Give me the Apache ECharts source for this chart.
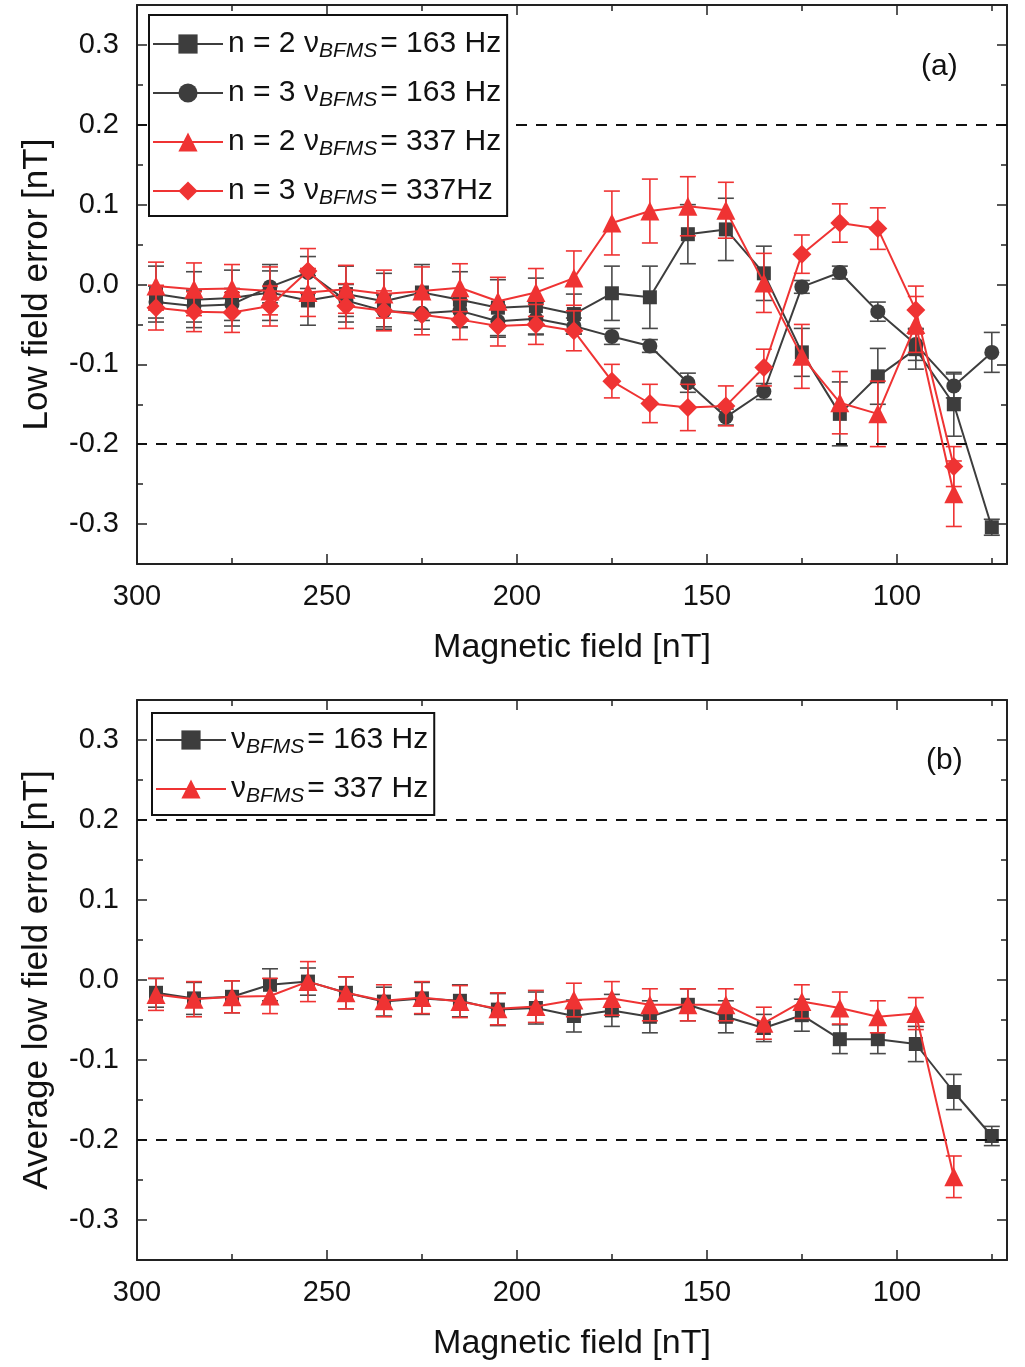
<!DOCTYPE html>
<html>
<head>
<meta charset="utf-8">
<script src="https://cdn.jsdelivr.net/npm/echarts@6/dist/echarts.min.js"></script>
<style>
html, body { margin: 0; padding: 0; background: #fff; }
#main { width: 1025px; height: 1367px; }
</style>
</head>
<body>
<div id="main"></div>
<script>
// magnetic field points [nT]
const field = [295, 285, 275, 265, 255, 245, 235, 225, 215, 205, 195, 185, 175, 165, 155, 145, 135, 125, 115, 105, 95, 85, 75];

// panel (a)
const n2f163 = [-0.012, -0.019, -0.017, -0.01, -0.02, -0.012, -0.021, -0.01, -0.019, -0.029, -0.027, -0.037, -0.011, -0.016, 0.063, 0.069, 0.014, -0.085, -0.162, -0.115, -0.081, -0.15, -0.304];
const n2f163Err = [0.035, 0.035, 0.035, 0.035, 0.031, 0.035, 0.035, 0.035, 0.035, 0.035, 0.035, 0.025, 0.034, 0.039, 0.037, 0.039, 0.034, 0.03, 0.04, 0.035, 0.025, 0.04, 0.01];
const n3f163 = [-0.022, -0.027, -0.025, -0.003, 0.015, -0.02, -0.033, -0.036, -0.033, -0.046, -0.043, -0.052, -0.065, -0.077, -0.123, -0.166, -0.134, -0.003, 0.015, -0.034, -0.075, -0.127, -0.085];
const n3f163Err = [0.02, 0.02, 0.02, 0.02, 0.02, 0.02, 0.02, 0.02, 0.02, 0.02, 0.02, 0.01, 0.01, 0.008, 0.012, 0.01, 0.01, 0.008, 0.008, 0.012, 0.02, 0.015, 0.025];
const n2f337 = [-0.002, -0.006, -0.005, -0.008, -0.01, -0.006, -0.012, -0.008, -0.004, -0.021, -0.01, 0.008, 0.077, 0.092, 0.098, 0.093, 0.002, -0.09, -0.148, -0.162, -0.05, -0.262, null];
const n2f337Err = [0.03, 0.033, 0.03, 0.03, 0.03, 0.03, 0.03, 0.03, 0.03, 0.03, 0.03, 0.034, 0.04, 0.04, 0.037, 0.035, 0.037, 0.04, 0.039, 0.041, 0.035, 0.041, null];
const n3f337 = [-0.029, -0.034, -0.035, -0.027, 0.017, -0.027, -0.033, -0.038, -0.044, -0.052, -0.05, -0.058, -0.121, -0.149, -0.154, -0.152, -0.104, 0.038, 0.077, 0.07, -0.032, -0.228, null];
const n3f337Err = [0.028, 0.025, 0.025, 0.025, 0.028, 0.028, 0.025, 0.025, 0.025, 0.025, 0.025, 0.025, 0.021, 0.024, 0.029, 0.025, 0.023, 0.024, 0.024, 0.026, 0.03, 0.025, null];

// panel (b)
const avg163 = [-0.016, -0.023, -0.021, -0.006, -0.002, -0.016, -0.027, -0.023, -0.026, -0.037, -0.035, -0.045, -0.038, -0.046, -0.031, -0.046, -0.06, -0.044, -0.074, -0.074, -0.08, -0.14, -0.195];
const avg163Err = [0.018, 0.02, 0.02, 0.02, 0.017, 0.02, 0.018, 0.02, 0.02, 0.02, 0.02, 0.02, 0.02, 0.02, 0.02, 0.02, 0.017, 0.02, 0.018, 0.018, 0.022, 0.022, 0.012];
const avg337 = [-0.018, -0.024, -0.021, -0.02, -0.002, -0.016, -0.026, -0.022, -0.027, -0.036, -0.033, -0.025, -0.023, -0.031, -0.031, -0.031, -0.054, -0.027, -0.035, -0.046, -0.042, -0.246, null];
const avg337Err = [0.02, 0.022, 0.02, 0.022, 0.025, 0.02, 0.02, 0.02, 0.02, 0.02, 0.02, 0.021, 0.021, 0.02, 0.02, 0.02, 0.02, 0.021, 0.02, 0.02, 0.02, 0.026, null];

// ticks
const xMajor = [100, 150, 200, 250, 300];
const xMinor = [75, 125, 175, 225, 275];
const yMajor = [-0.3, -0.2, -0.1, 0, 0.1, 0.2, 0.3];
const yMinor = [-0.25, -0.15, -0.05, 0.05, 0.15, 0.25];
const refLines = [0.2, -0.2];

const FONT = 'Liberation Sans, Arial, sans-serif';
const GRAY = '#3d3d3d';
const RED = '#ef3333';
const AX = '#222';

const legendNames = {
  a1: '{t|n = 2 ν}{s|BFMS}{t|= 163 Hz}',
  a2: '{t|n = 3 ν}{s|BFMS}{t|= 163 Hz}',
  a3: '{t|n = 2 ν}{s|BFMS}{t|= 337 Hz}',
  a4: '{t|n = 3 ν}{s|BFMS}{t|= 337Hz}',
  b1: '{t|ν}{s|BFMS}{t|= 163 Hz}',
  b2: '{t|ν}{s|BFMS}{t|= 337 Hz}'
};

const grids = [
  { left: 137, top: 5, width: 870, height: 559 },
  { left: 137, top: 700, width: 870, height: 560 }
];

let xAxes = [];
let yAxes = [];
grids.forEach((g, gi) => {
  const base = { gridIndex: gi, type: 'value', min: 71, max: 300, inverse: true, splitLine: { show: false } };
  xAxes.push(Object.assign({}, base, {
    position: 'bottom',
    axisLine: { show: true, onZero: false, lineStyle: { color: AX, width: 2 } },
    axisTick: { inside: true, length: 10, customValues: xMajor, lineStyle: { color: AX, width: 1.5 } },
    axisLabel: { customValues: xMajor, fontSize: 29, fontFamily: FONT, color: '#111', margin: 18 },
    name: 'Magnetic field [nT]', nameLocation: 'middle', nameGap: 67,
    nameTextStyle: { fontSize: 34, fontFamily: FONT, color: '#111' }
  }));
  xAxes.push(Object.assign({}, base, {
    position: 'bottom',
    axisLine: { show: false, onZero: false },
    axisTick: { inside: true, length: 6, customValues: xMinor, lineStyle: { color: AX, width: 1.5 } },
    axisLabel: { show: false }
  }));
  xAxes.push(Object.assign({}, base, {
    position: 'top',
    axisLine: { show: true, onZero: false, lineStyle: { color: AX, width: 2 } },
    axisTick: { inside: true, length: 10, customValues: xMajor, lineStyle: { color: AX, width: 1.5 } },
    axisLabel: { show: false }
  }));
  xAxes.push(Object.assign({}, base, {
    position: 'top',
    axisLine: { show: false, onZero: false },
    axisTick: { inside: true, length: 6, customValues: xMinor, lineStyle: { color: AX, width: 1.5 } },
    axisLabel: { show: false }
  }));

  const ybase = { gridIndex: gi, type: 'value', min: -0.35, max: 0.35, splitLine: { show: false } };
  yAxes.push(Object.assign({}, ybase, {
    position: 'left',
    axisLine: { show: true, onZero: false, lineStyle: { color: AX, width: 2 } },
    axisTick: { inside: true, length: 10, customValues: yMajor, lineStyle: { color: AX, width: 1.5 } },
    axisLabel: { customValues: yMajor, formatter: v => v.toFixed(1), fontSize: 29, fontFamily: FONT, color: '#111', margin: 18 },
    name: gi === 0 ? 'Low field error [nT]' : 'Average low field error [nT]',
    nameLocation: 'middle', nameGap: 82,
    nameTextStyle: { fontSize: 35, fontFamily: FONT, color: '#111' }
  }));
  yAxes.push(Object.assign({}, ybase, {
    position: 'left',
    axisLine: { show: false, onZero: false },
    axisTick: { inside: true, length: 6, customValues: yMinor, lineStyle: { color: AX, width: 1.5 } },
    axisLabel: { show: false }
  }));
  yAxes.push(Object.assign({}, ybase, {
    position: 'right',
    axisLine: { show: true, onZero: false, lineStyle: { color: AX, width: 2 } },
    axisTick: { inside: true, length: 10, customValues: yMajor, lineStyle: { color: AX, width: 1.5 } },
    axisLabel: { show: false }
  }));
  yAxes.push(Object.assign({}, ybase, {
    position: 'right',
    axisLine: { show: false, onZero: false },
    axisTick: { inside: true, length: 6, customValues: yMinor, lineStyle: { color: AX, width: 1.5 } },
    axisLabel: { show: false }
  }));
});

function pts(vals) {
  return field.map((f, i) => vals[i] == null ? null : [f, vals[i]]).filter(Boolean);
}

function errBars(gi, vals, errs, color, z) {
  return {
    type: 'custom',
    xAxisIndex: gi * 4, yAxisIndex: gi * 4,
    silent: true, z: z,
    encode: { x: 0, y: 1 },
    data: field.map((f, i) => vals[i] == null ? null : [f, vals[i], errs[i]]).filter(Boolean),
    renderItem: function (params, api) {
      const x = api.value(0), y = api.value(1), e = api.value(2);
      const top = api.coord([x, y + e]);
      const bot = api.coord([x, y - e]);
      const w = 8;
      const st = { stroke: color, lineWidth: 1.6 };
      return {
        type: 'group',
        children: [
          { type: 'line', shape: { x1: top[0], y1: top[1], x2: bot[0], y2: bot[1] }, style: st },
          { type: 'line', shape: { x1: top[0] - w, y1: top[1], x2: top[0] + w, y2: top[1] }, style: st },
          { type: 'line', shape: { x1: bot[0] - w, y1: bot[1], x2: bot[0] + w, y2: bot[1] }, style: st }
        ]
      };
    }
  };
}

function lineSeries(gi, name, vals, color, symbol, size, z, withRef) {
  const s = {
    type: 'line', name: name,
    xAxisIndex: gi * 4, yAxisIndex: gi * 4,
    data: pts(vals),
    symbol: symbol, symbolSize: size,
    showAllSymbol: true,
    itemStyle: { color: color },
    lineStyle: { color: color, width: 2 },
    z: z, animation: false
  };
  if (withRef) {
    s.markLine = {
      silent: true, symbol: ['none', 'none'],
      label: { show: false },
      lineStyle: { color: '#111', width: 2, type: [11, 9] },
      data: refLines.map(v => ({ yAxis: v }))
    };
  }
  return s;
}

const series = [
  errBars(0, n2f163, n2f163Err, '#4a4a4a', 2),
  lineSeries(0, 'a1', n2f163, GRAY, 'rect', 14, 3, true),
  errBars(0, n3f163, n3f163Err, '#4a4a4a', 2),
  lineSeries(0, 'a2', n3f163, GRAY, 'circle', 15, 3, false),
  errBars(0, n2f337, n2f337Err, RED, 4),
  lineSeries(0, 'a3', n2f337, RED, 'triangle', 19, 5, false),
  errBars(0, n3f337, n3f337Err, RED, 4),
  lineSeries(0, 'a4', n3f337, RED, 'diamond', 19, 5, false),
  errBars(1, avg163, avg163Err, '#4a4a4a', 2),
  lineSeries(1, 'b1', avg163, GRAY, 'rect', 14, 3, true),
  errBars(1, avg337, avg337Err, RED, 4),
  lineSeries(1, 'b2', avg337, RED, 'triangle', 19, 5, false)
];

const legendText = {
  formatter: name => legendNames[name],
  textStyle: {
    rich: {
      t: { fontSize: 30, fontFamily: FONT, color: '#111', lineHeight: 36 },
      s: { fontSize: 21, fontFamily: FONT, fontStyle: 'italic', color: '#111', lineHeight: 18, verticalAlign: 'bottom', padding: [0, 3, 0, 0] }
    }
  }
};

const legendBox = {
  orient: 'vertical',
  itemWidth: 70, itemHeight: 24, itemGap: 16,
  borderColor: '#111', borderWidth: 2, backgroundColor: '#fff',
  selectedMode: false, z: 10
};

const option = {
  backgroundColor: '#fff',
  animation: false,
  grid: grids,
  xAxis: xAxes,
  yAxis: yAxes,
  legend: [
    Object.assign({}, legendBox, legendText, {
      data: ['a1', 'a2', 'a3', 'a4'],
      left: 149, top: 15,
      padding: [14, 6, 7, 3]
    }),
    Object.assign({}, legendBox, legendText, {
      data: ['b1', 'b2'],
      left: 152, top: 713,
      padding: [12, 6, 8, 3]
    })
  ],
  graphic: [
    { type: 'text', left: 921, top: 52, z: 10, style: { text: '(a)', fontSize: 30, fontFamily: FONT, fill: '#111' } },
    { type: 'text', left: 926, top: 746, z: 10, style: { text: '(b)', fontSize: 30, fontFamily: FONT, fill: '#111' } }
  ],
  series: series
};

const chart = echarts.init(document.getElementById('main'));
chart.setOption(option);
</script>
</body>
</html>
